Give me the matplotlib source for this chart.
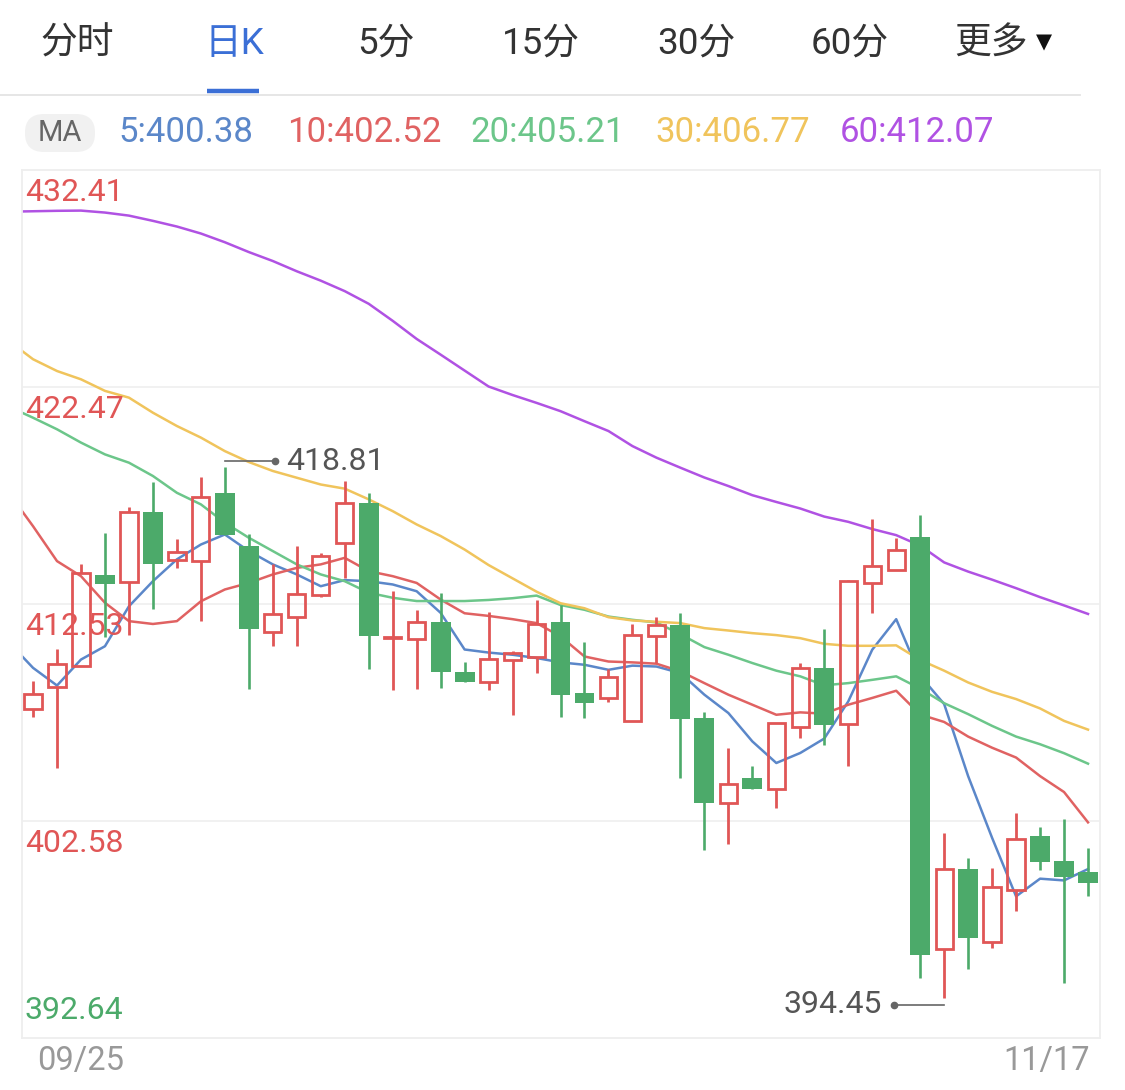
import numpy as np
import matplotlib.pyplot as plt
from matplotlib.lines import Line2D
from matplotlib.patches import FancyBboxPatch
from matplotlib.transforms import offset_copy

plt.rcParams['font.family'] = ['Roboto', 'Noto Sans CJK SC', 'DejaVu Sans']

# 日K 数据: 09/25 - 11/17
dates = ['09/25', '11/17']
opens = [407.70, 408.72, 409.70, 413.86, 413.54, 416.72, 414.52, 414.49, 417.62, 415.20,
         411.25, 411.94, 412.93, 415.33, 417.13, 410.95, 410.92, 411.69, 409.43, 408.94,
         409.96, 410.08, 411.72, 408.43, 408.20, 407.18, 411.06, 411.57, 407.29, 403.42,
         404.57, 404.03, 406.89, 409.57, 407.02, 413.48, 414.06, 415.59, 396.71, 400.39,
         397.03, 399.44, 401.89, 400.77, 400.25]
closes = [408.40, 409.78, 413.95, 413.42, 416.72, 414.35, 414.93, 417.41, 415.69, 411.37,
          412.07, 413.00, 414.73, 417.13, 411.05, 411.00, 411.69, 409.41, 408.97, 410.01,
          410.27, 411.61, 408.36, 407.97, 409.20, 411.11, 411.54, 407.24, 403.43, 404.26,
          404.06, 407.06, 409.57, 406.97, 413.56, 414.25, 414.98, 396.45, 400.39, 397.22,
          399.56, 401.78, 400.69, 400.02, 399.74]
highs = [409.00, 410.48, 414.35, 415.80, 416.97, 418.11, 415.50, 418.36, 418.81, 415.74,
         414.35, 415.17, 414.88, 418.15, 417.62, 413.10, 412.25, 413.05, 409.88, 412.18,
         410.39, 412.71, 412.48, 410.80, 409.53, 411.61, 411.95, 412.13, 407.56, 405.94,
         405.10, 407.06, 409.82, 411.38, 413.63, 416.43, 415.55, 416.62, 402.04, 400.89,
         400.43, 402.96, 402.32, 402.69, 401.35]
lows = [407.35, 405.00, 409.70, 411.00, 411.09, 412.31, 414.19, 411.74, 415.69, 408.64,
        410.60, 410.60, 412.83, 413.70, 409.53, 408.60, 408.62, 408.69, 408.97, 408.58,
        407.44, 409.35, 407.36, 407.29, 408.05, 407.18, 409.81, 404.53, 401.25, 401.55,
        404.06, 403.19, 406.40, 406.05, 405.10, 412.10, 414.06, 395.38, 394.45, 395.79,
        396.76, 398.47, 400.33, 395.15, 399.13]

# 均线 (第一个值是 09/25 前一天的)
ma5 = [410.76, 409.60, 408.79, 409.98, 410.59, 412.42, 413.57, 414.57, 415.25, 415.71,
       414.95, 414.34, 413.88, 413.34, 413.62, 413.57, 413.42, 413.11, 412.12, 410.44,
       410.30, 410.20, 410.05, 409.85, 409.74, 409.51, 409.70, 409.66, 409.36, 408.37,
       407.53, 406.23, 405.24, 405.70, 406.36, 408.06, 410.43, 411.83, 409.24, 407.94,
       404.64, 401.81, 399.13, 399.94, 399.86, 400.38]
ma10 = [417.60, 416.09, 414.49, 413.80, 412.58, 411.74, 411.61, 411.74, 412.65, 413.19,
        413.49, 413.88, 414.18, 414.34, 414.64, 414.03, 413.80, 413.49, 412.73, 412.10,
        411.98, 411.83, 411.65, 411.04, 410.12, 409.89, 409.85, 409.79, 409.44, 408.90,
        408.37, 407.91, 407.45, 407.56, 407.50, 407.91, 408.22, 408.55, 407.46, 407.12,
        406.45, 405.94, 405.49, 404.64, 403.91, 402.52]
ma20 = [421.56, 421.06, 420.53, 419.92, 419.38, 419.00, 418.39, 417.62, 417.09, 416.25,
        415.56, 414.95, 414.34, 413.88, 413.57, 413.04, 412.81, 412.66, 412.66, 412.66,
        412.71, 412.79, 412.91, 412.48, 412.26, 411.95, 411.80, 411.68, 411.14, 410.55,
        410.20, 409.82, 409.47, 409.21, 408.80, 408.90, 409.05, 409.21, 408.65, 407.98,
        407.48, 406.94, 406.45, 406.10, 405.69, 405.21]
ma30 = [424.57, 423.74, 423.20, 422.82, 422.29, 421.98, 421.29, 420.68, 420.15, 419.53,
        419.03, 418.62, 418.31, 418.00, 417.81, 417.32, 416.78, 416.17, 415.64, 415.02,
        414.31, 413.70, 413.09, 412.56, 412.33, 411.92, 411.77, 411.71, 411.65, 411.42,
        411.31, 411.19, 411.10, 410.96, 410.70, 410.61, 410.61, 410.63, 409.96, 409.47,
        408.93, 408.50, 408.17, 407.74, 407.17, 406.77]
ma60 = [430.50, 430.52, 430.54, 430.55, 430.46, 430.32, 430.08, 429.82, 429.50, 429.10,
        428.65, 428.24, 427.77, 427.34, 426.86, 426.28, 425.50, 424.67, 423.95, 423.22,
        422.49, 422.10, 421.74, 421.36, 420.90, 420.45, 419.76, 419.23, 418.77, 418.32,
        417.93, 417.51, 417.20, 416.90, 416.53, 416.29, 415.96, 415.68, 415.20, 414.43,
        414.01, 413.64, 413.25, 412.84, 412.46, 412.07]

ma_names = ['5', '10', '20', '30', '60']
ma_colors = ['#5b87c9', '#e06262', '#6cc68a', '#f0c45c', '#b052e3']

tabs = ['分时', '日K', '5分', '15分', '30分', '60分', '更多']
y_labels = ['392.64', '402.58', '412.53', '422.47', '432.41']
y_label_colors = ['#4caa6a', '#e05656', '#e05656', '#e05656', '#e05656']

RED = '#e05656'
GREEN = '#4caa6a'

W, H = 1125, 1090
fig = plt.figure(figsize=(W / 100, H / 100), dpi=100)
fig.patch.set_facecolor('white')

# 顶部标签栏
tab_x = [77, 234, 386, 541, 696, 850, 991]
for name, tx in zip(tabs, tab_x):
    col = '#3b6fd6' if name == '日K' else '#333333'
    fig.text(tx / W, 1 - 44 / H, name, ha='center', va='center', fontsize=26.5, color=col)
fig.text(1044 / W, 1 - 42 / H, '▼', ha='center', va='center', fontsize=15, color='#111111',
         family='DejaVu Sans')
fig.add_artist(Line2D([207 / W, 259 / W], [1 - 91 / H, 1 - 91 / H], color='#3b6fd6', lw=3.2,
                      solid_capstyle='butt'))
fig.add_artist(Line2D([0, 1080 / W], [1 - 95 / H, 1 - 95 / H], color='#e4e4e4', lw=1.3))

# MA 图例
fig.patches.append(FancyBboxPatch((25 / W, 1 - 152 / H), 70 / W, 38 / H,
                                  boxstyle='round,pad=0,rounding_size=0.017',
                                  transform=fig.transFigure, fc='#f1f1f1', ec='none'))
fig.text(60 / W, 1 - 133 / H, 'MA', ha='center', va='center', fontsize=21, color='#666666')
leg_x = [118, 287, 470, 655, 840]
for nm, arr, col, lx in zip(ma_names, [ma5, ma10, ma20, ma30, ma60], ma_colors, leg_x):
    fig.text(lx / W, 1 - 133 / H, f'{nm}:{arr[-1]:.2f}', ha='left', va='center',
             fontsize=25, color=col)

# K线图
ax = fig.add_axes([22 / W, 52 / H, 1078 / W, 868 / H])
n = len(opens)
x = np.arange(n)
ax.set_xlim(-0.46, n - 0.5)
ax.set_ylim(float(y_labels[0]), float(y_labels[-1]))
ticks = np.linspace(float(y_labels[0]), float(y_labels[-1]), len(y_labels))
for t in ticks[1:-1]:
    ax.axhline(t, color='#efefef', lw=1.2, zorder=0)

xm = np.arange(-1, n)
for arr, col in zip([ma5, ma10, ma20, ma30, ma60], ma_colors):
    ax.plot(xm, arr, color=col, lw=1.8, zorder=2)

for i in range(n):
    o, c, h, l = opens[i], closes[i], highs[i], lows[i]
    if c >= o:
        ax.vlines(i, max(o, c), h, color=RED, lw=2.0, zorder=3)
        ax.vlines(i, l, min(o, c), color=RED, lw=2.0, zorder=3)
        ax.bar(i, max(c - o, 0.04), bottom=o, width=0.72, facecolor='none',
               edgecolor=RED, linewidth=2.0, zorder=4)
    else:
        ax.vlines(i, l, h, color=GREEN, lw=1.9, zorder=3)
        ax.bar(i, o - c, bottom=c, width=0.83, color=GREEN, lw=0, zorder=4)

# 最高/最低价标注
up = offset_copy(ax.transData, fig=fig, y=4, units='points')
down = offset_copy(ax.transData, fig=fig, y=-4.5, units='points')
ih = int(np.argmax(highs))
ax.plot([ih, ih + 2.1], [highs[ih], highs[ih]], color='#666666', lw=1.2, zorder=5, transform=up)
ax.plot(ih + 2.1, highs[ih], 'o', color='#666666', ms=4.5, zorder=5, transform=up)
ax.text(ih + 2.55, highs[ih], f'{highs[ih]:.2f}', ha='left', va='center', fontsize=23,
        color='#555555', zorder=5, transform=up)
il = int(np.argmin(lows))
ax.plot([il, il - 2.1], [lows[il], lows[il]], color='#666666', lw=1.2, zorder=5, transform=down)
ax.plot(il - 2.1, lows[il], 'o', color='#666666', ms=4.5, zorder=5, transform=down)
ax.text(il - 2.6, lows[il], f'{lows[il]:.2f}', ha='right', va='center', fontsize=23,
        color='#555555', zorder=5, transform=down)

# 纵轴标签 (画在图内)
for t, lab, col in zip(ticks, y_labels, y_label_colors):
    dy = 20 if t == ticks[0] else -16
    ax.annotate(lab, xy=(0, t), xycoords=('axes fraction', 'data'), xytext=(2, dy),
                textcoords='offset points', ha='left', va='center', fontsize=23, color=col)

ax.set_xticks([])
ax.set_yticks([])
for s in ax.spines.values():
    s.set_color('#eeeeee')
    s.set_linewidth(1.3)

# 日期
fig.text(81 / W, 1 - 1061 / H, dates[0], ha='center', va='center', fontsize=23.5, color='#999999')
fig.text(1090 / W, 1 - 1061 / H, dates[1], ha='right', va='center', fontsize=23.5, color='#999999')

fig.savefig('out.png', dpi=100, facecolor='white')
